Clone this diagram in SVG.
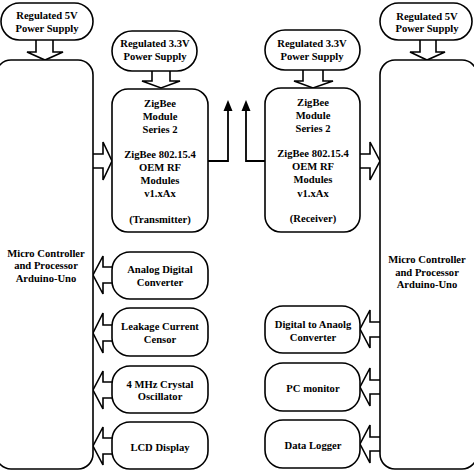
<svg xmlns="http://www.w3.org/2000/svg" width="474" height="474" viewBox="0 0 474 474">
<style>
.n{fill:#fff;stroke:#000;stroke-width:1.6}
.a{fill:#fff;stroke:#000;stroke-width:1.6;stroke-linejoin:miter}
.l{fill:none;stroke:#000;stroke-width:1.8}
text{font-family:"Liberation Serif","Times New Roman",serif;font-weight:bold;font-size:10.6px;text-anchor:middle;fill:#000}
</style>
<rect width="474" height="474" fill="#fff"/>
<g id="connectors">
<path class="a" d="M36,39 V52 H27 L45,60 L63,52 H53 V39"/>
<path class="a" d="M420,39 V52 H410 L427,60 L445,52 H436 V39"/>
<path class="a" d="M152,70 V81 H142 L161,88 L180,81 H170 V70"/>
<path class="a" d="M303,70 V81 H294 L313,88 L333,81 H323 V70"/>
<path class="a" d="M93,154 H103 V142 L112,161 L103,180 V168 H93"/>
<path class="a" d="M360,154 H370 V142 L380,161 L370,180 V168 H360"/>
<path class="a" d="M112,267 H103 V256 L93,275 L103,294 V283 H112"/>
<path class="a" d="M112,325 H103 V313 L93,333 L103,353 V341 H112"/>
<path class="a" d="M112,382 H103 V371 L93,390 L103,409 V398 H112"/>
<path class="a" d="M112,438 H103 V427 L93,446 L103,465 V454 H112"/>
<path class="a" d="M380,322 H370 V310 L360,329 L370,348 V337 H380"/>
<path class="a" d="M380,380 H370 V368 L360,387 L370,406 V394 H380"/>
<path class="a" d="M380,437 H370 V425 L360,444 L370,463 V451 H380"/>
<path class="l" d="M208,161 H228 V108"/>
<polygon points="228,100 223.5,111 232.5,111" fill="#000"/>
<path class="l" d="M265,161 H246 V108"/>
<polygon points="246,100 241.5,111 250.5,111" fill="#000"/>
</g>
<g id="ps5-left"><rect class="n" x="1" y="3" width="92" height="37" rx="18.5"/><text x="47" y="19">Regulated 5V</text><text x="47" y="32">Power Supply</text></g>
<g id="ps5-right"><rect class="n" x="380" y="3" width="92" height="37" rx="18.5"/><text x="427" y="20">Regulated 5V</text><text x="427" y="32">Power Supply</text></g>
<g id="ps33-left"><rect class="n" x="112" y="31" width="85" height="40" rx="20"/><text x="155" y="47">Regulated 3.3V</text><text x="155" y="60">Power Supply</text></g>
<g id="ps33-right"><rect class="n" x="265" y="30" width="95" height="40" rx="20"/><text x="312" y="47">Regulated 3.3V</text><text x="312" y="60">Power Supply</text></g>
<g id="mc-left"><rect class="n" x="-4" y="60" width="97" height="409" rx="15"/><text x="46" y="257">Micro Controller</text><text x="46" y="269">and Processor</text><text x="46" y="282">Arduino-Uno</text></g>
<g id="mc-right"><rect class="n" x="380" y="60" width="97" height="409" rx="15"/><text x="427" y="263">Micro Controller</text><text x="427" y="276">and Processor</text><text x="427" y="288">Arduino-Uno</text></g>
<g id="zigbee-tx"><rect class="n" x="112" y="89" width="96" height="143" rx="16"/>
<text x="160" y="107">ZigBee</text><text x="160" y="120">Module</text><text x="160" y="133">Series 2</text>
<text x="160" y="158">ZigBee 802.15.4</text><text x="160" y="171">OEM RF</text><text x="160" y="184">Modules</text><text x="160" y="197">v1.xAx</text>
<text x="160" y="223">(Transmitter)</text></g>
<g id="zigbee-rx"><rect class="n" x="265" y="88" width="95" height="144" rx="16"/>
<text x="313" y="106">ZigBee</text><text x="313" y="119">Module</text><text x="313" y="132">Series 2</text>
<text x="313" y="157">ZigBee 802.15.4</text><text x="313" y="170">OEM RF</text><text x="313" y="183">Modules</text><text x="313" y="197">v1.xAx</text>
<text x="313" y="222">(Receiver)</text></g>
<g id="adc"><rect class="n" x="112" y="252" width="96" height="47" rx="18"/><text x="160" y="273">Analog Digital</text><text x="160" y="286">Converter</text></g>
<g id="leakage"><rect class="n" x="112" y="308" width="96" height="48" rx="18"/><text x="160" y="330">Leakage Current</text><text x="160" y="343">Censor</text></g>
<g id="crystal"><rect class="n" x="112" y="366" width="96" height="47" rx="18"/><text x="160" y="388">4 MHz Crystal</text><text x="160" y="400">Oscillator</text></g>
<g id="lcd"><rect class="n" x="112" y="422" width="96" height="47" rx="18"/><text x="160" y="451">LCD Display</text></g>
<g id="dac"><rect class="n" x="265" y="306" width="95" height="47" rx="18"/><text x="313" y="328">Digital to Anaolg</text><text x="313" y="341">Converter</text></g>
<g id="pc"><rect class="n" x="265" y="363" width="95" height="48" rx="18"/><text x="313" y="392">PC monitor</text></g>
<g id="logger"><rect class="n" x="265" y="420" width="95" height="48" rx="18"/><text x="313" y="449">Data Logger</text></g>
</svg>
